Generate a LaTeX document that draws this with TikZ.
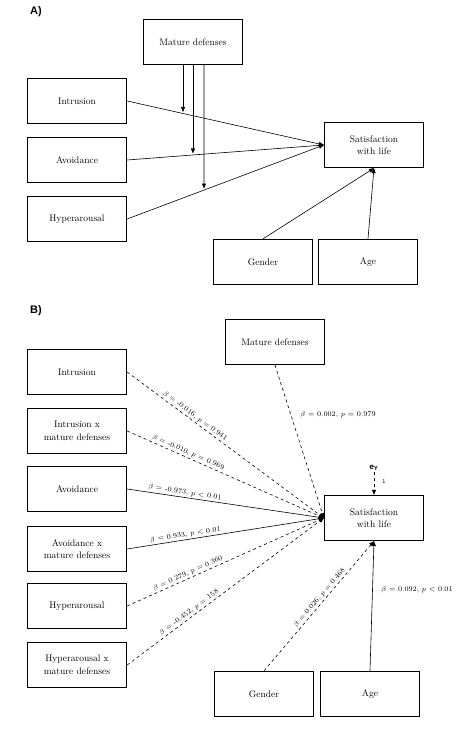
\documentclass[tikz,border=0pt]{standalone}
\usepackage{fontspec}
\usetikzlibrary{arrows.meta,calc}
\newfontfamily\panelfont{Liberation Sans}
\begin{document}
\begin{tikzpicture}[x=1pt,y=1pt,
  box/.style={draw, line width=1.3pt, minimum width=99pt, minimum height=45pt,
    align=center, inner sep=0pt, font=\fontsize{9.5}{12.5}\selectfont},
  arr/.style={-{Triangle[length=5pt,width=4pt]}, line width=0.6pt},
  lab/.style={font=\fontsize{7.2}{8}\selectfont, inner sep=1.5pt},
  panel/.style={font=\panelfont\bfseries\fontsize{11}{12}\selectfont}]
\useasboundingbox (0,0) rectangle (474,733);
% ---------- Panel A ----------
\node[panel] (pa) at (36,721) {A)};
\node[box] (AM) at (193,691) {Mature defenses};
\node[box] (AI) at (77,632) {Intrusion};
\node[box] (AA) at (77,573) {Avoidance};
\node[box] (AH) at (77,514) {Hyperarousal};
\node[box] (AS) at (374,588) {Satisfaction\\with life};
\node[box] (AG) at (263,471) {Gender};
\node[box] (AY) at (368,471) {Age};
\draw[arr] (AI.east) -- (AS.west);
\draw[arr] (AA.east) -- (AS.west);
\draw[arr] (AH.east) -- (AS.west);
\draw[arr] (AG.north) -- (AS.south);
\draw[arr] (AY.north) -- (AS.south);
\coordinate (m1) at ([xshift=-10pt]AM.south);
\coordinate (m2) at (AM.south);
\coordinate (m3) at ([xshift=11pt]AM.south);
\coordinate (m1b) at ([yshift=-300pt]m1);
\coordinate (m2b) at ([yshift=-300pt]m2);
\coordinate (m3b) at ([yshift=-300pt]m3);
\draw[arr, shorten >=1.5pt] (m1) -- (intersection of AI.east--AS.west and m1--m1b);
\draw[arr, shorten >=1.5pt] (m2) -- (intersection of AA.east--AS.west and m2--m2b);
\draw[arr, shorten >=1.5pt] (m3) -- (intersection of AH.east--AS.west and m3--m3b);
% ---------- Panel B ----------
\node[panel] (pb) at (36,422) {B)};
\node[box] (BM) at (275,391) {Mature defenses};
\node[box] (BI) at (77,361) {Intrusion};
\node[box] (BIx) at (77,302) {Intrusion x\\mature defenses};
\node[box] (BA) at (77,244) {Avoidance};
\node[box] (BAx) at (77,184) {Avoidance x\\mature defenses};
\node[box] (BH) at (77,127) {Hyperarousal};
\node[box] (BHx) at (77,68) {Hyperarousal x\\mature defenses};
\node[box] (BS) at (374,215) {Satisfaction\\with life};
\node[box] (BG) at (264,39) {Gender};
\node[box] (BY) at (370,39) {Age};
\draw[arr, dashed] (BI.east) -- node[lab, sloped, above, pos=0.33] {$\beta$ = -0.016, $p$ = 0.941} (BS.west);
\draw[arr, dashed] (BIx.east) -- node[lab, sloped, above, pos=0.30] {$\beta$ = -0.010, $p$ = 0.969} (BS.west);
\draw[arr] (BA.east) -- node[lab, sloped, above, pos=0.29] {$\beta$ = -0.973, $p$ < 0.01} (BS.west);
\draw[arr] (BAx.east) -- node[lab, sloped, above, pos=0.30] {$\beta$ = 0.933, $p$ < 0.01} (BS.west);
\draw[arr, dashed] (BH.east) -- node[lab, sloped, above, pos=0.32] {$\beta$ = 0.279, $p$ = 0.360} (BS.west);
\draw[arr, dashed] (BHx.east) -- node[lab, sloped, above, pos=0.33] {$\beta$ = -0.452, $p$ = 158} (BS.west);
\draw[arr, dashed] (BM.south) -- (BS.west);
\node[lab] (lm) at (338,318) {$\beta$ = 0.002, $p$ = 0.979};
\draw[arr, dashed] (BG.north) -- node[lab, sloped, above, pos=0.54] {$\beta$ = 0.026, $p$ = 0.468} (BS.south);
\draw[arr] (BY.north) -- (BS.south);
\node[lab] (ly) at (417,143) {$\beta$ = 0.092, $p$ < 0.01};
\node[font=\panelfont\bfseries\fontsize{8}{9}\selectfont, inner sep=0.5pt] (eY) at (374,265) {e\textsubscript{Y}};
\draw[arr, dashed] (eY.south) -- (BS.north);
\node[font=\panelfont\fontsize{5.5}{6}\selectfont] (one) at (384,251) {1};
\end{tikzpicture}
\end{document}
